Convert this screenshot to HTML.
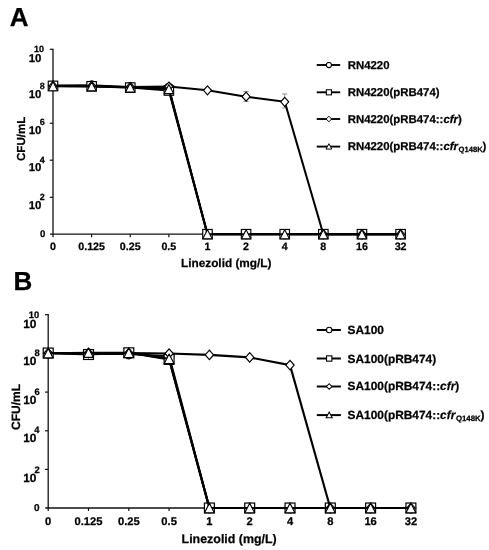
<!DOCTYPE html>
<html><head><meta charset="utf-8"><title>Linezolid susceptibility</title>
<style>
html,body{margin:0;padding:0;background:#fff;}
svg{display:block;font-family:"Liberation Sans", Arial, Helvetica, sans-serif;fill:#000;text-rendering:geometricPrecision;}
text{stroke:#000;stroke-width:0.25px;stroke-linejoin:round;}
</style></head><body>
<svg width="489" height="550" viewBox="0 0 489 550">
<rect width="489" height="550" fill="#fff"/>
<line x1="53.0" y1="48.699999999999996" x2="53.0" y2="234.79999999999998" stroke="#111" stroke-width="1.3"/>
<line x1="50.0" y1="234.2" x2="400.58" y2="234.2" stroke="#111" stroke-width="1.3"/>
<line x1="49.8" y1="49.3" x2="53.0" y2="49.3" stroke="#111" stroke-width="1.2"/>
<line x1="49.8" y1="86.3" x2="53.0" y2="86.3" stroke="#111" stroke-width="1.2"/>
<line x1="49.8" y1="123.3" x2="53.0" y2="123.3" stroke="#111" stroke-width="1.2"/>
<line x1="49.8" y1="160.2" x2="53.0" y2="160.2" stroke="#111" stroke-width="1.2"/>
<line x1="49.8" y1="197.3" x2="53.0" y2="197.3" stroke="#111" stroke-width="1.2"/>
<line x1="53.00" y1="234.2" x2="53.00" y2="237.2" stroke="#111" stroke-width="1.2"/>
<line x1="91.62" y1="234.2" x2="91.62" y2="237.2" stroke="#111" stroke-width="1.2"/>
<line x1="130.24" y1="234.2" x2="130.24" y2="237.2" stroke="#111" stroke-width="1.2"/>
<line x1="168.86" y1="234.2" x2="168.86" y2="237.2" stroke="#111" stroke-width="1.2"/>
<line x1="207.48" y1="234.2" x2="207.48" y2="237.2" stroke="#111" stroke-width="1.2"/>
<line x1="246.10" y1="234.2" x2="246.10" y2="237.2" stroke="#111" stroke-width="1.2"/>
<line x1="284.72" y1="234.2" x2="284.72" y2="237.2" stroke="#111" stroke-width="1.2"/>
<line x1="323.34" y1="234.2" x2="323.34" y2="237.2" stroke="#111" stroke-width="1.2"/>
<line x1="361.96" y1="234.2" x2="361.96" y2="237.2" stroke="#111" stroke-width="1.2"/>
<line x1="400.58" y1="234.2" x2="400.58" y2="237.2" stroke="#111" stroke-width="1.2"/>
<path d="M246.10 91.5 V101.5 M243.50 91.5 h5.2 M243.50 101.5 h5.2" stroke="#8a8a8a" stroke-width="0.9" fill="none"/>
<path d="M284.72 94.0 V107.9 M282.12 94.0 h5.2 M282.12 107.9 h5.2" stroke="#8a8a8a" stroke-width="0.9" fill="none"/>
<polyline points="53.00,85.60 91.62,85.30 130.24,87.20 168.86,88.00 207.48,234.20 246.10,234.20 284.72,234.20 323.34,234.20 361.96,234.20 400.58,234.20" fill="none" stroke="#000" stroke-width="2.05" stroke-linejoin="round" stroke-linecap="round"/>
<circle cx="53.00" cy="85.60" r="4.60" fill="#fff" stroke="#000" stroke-width="1.15"/>
<circle cx="91.62" cy="85.30" r="4.60" fill="#fff" stroke="#000" stroke-width="1.15"/>
<circle cx="130.24" cy="87.20" r="4.60" fill="#fff" stroke="#000" stroke-width="1.15"/>
<circle cx="168.86" cy="88.00" r="4.60" fill="#fff" stroke="#000" stroke-width="1.15"/>
<circle cx="207.48" cy="234.20" r="4.60" fill="#fff" stroke="#000" stroke-width="1.15"/>
<circle cx="246.10" cy="234.20" r="4.60" fill="#fff" stroke="#000" stroke-width="1.15"/>
<circle cx="284.72" cy="234.20" r="4.60" fill="#fff" stroke="#000" stroke-width="1.15"/>
<circle cx="323.34" cy="234.20" r="4.60" fill="#fff" stroke="#000" stroke-width="1.15"/>
<circle cx="361.96" cy="234.20" r="4.60" fill="#fff" stroke="#000" stroke-width="1.15"/>
<circle cx="400.58" cy="234.20" r="4.60" fill="#fff" stroke="#000" stroke-width="1.15"/>
<polyline points="53.00,85.90 91.62,86.30 130.24,87.60 168.86,90.50 207.48,234.20 246.10,234.20 284.72,234.20 323.34,234.20 361.96,234.20 400.58,234.20" fill="none" stroke="#000" stroke-width="2.05" stroke-linejoin="round" stroke-linecap="round"/>
<rect x="48.25" y="81.15" width="9.5" height="9.5" fill="#fff" stroke="#000" stroke-width="1.15"/>
<rect x="86.87" y="81.55" width="9.5" height="9.5" fill="#fff" stroke="#000" stroke-width="1.15"/>
<rect x="125.49" y="82.85" width="9.5" height="9.5" fill="#fff" stroke="#000" stroke-width="1.15"/>
<rect x="164.11" y="85.75" width="9.5" height="9.5" fill="#fff" stroke="#000" stroke-width="1.15"/>
<rect x="202.73" y="229.45" width="9.5" height="9.5" fill="#fff" stroke="#000" stroke-width="1.15"/>
<rect x="241.35" y="229.45" width="9.5" height="9.5" fill="#fff" stroke="#000" stroke-width="1.15"/>
<rect x="279.97" y="229.45" width="9.5" height="9.5" fill="#fff" stroke="#000" stroke-width="1.15"/>
<rect x="318.59" y="229.45" width="9.5" height="9.5" fill="#fff" stroke="#000" stroke-width="1.15"/>
<rect x="357.21" y="229.45" width="9.5" height="9.5" fill="#fff" stroke="#000" stroke-width="1.15"/>
<rect x="395.83" y="229.45" width="9.5" height="9.5" fill="#fff" stroke="#000" stroke-width="1.15"/>
<polyline points="53.00,85.90 91.62,86.00 130.24,87.00 168.86,86.50 207.48,90.30 246.10,96.70 284.72,101.80 323.34,234.20 361.96,234.20 400.58,234.20" fill="none" stroke="#000" stroke-width="2.05" stroke-linejoin="round" stroke-linecap="round"/>
<path d="M53.00 81.40 L57.00 85.90 L53.00 90.40 L49.00 85.90Z" fill="#fff" stroke="#000" stroke-width="1.15"/>
<path d="M91.62 81.50 L95.62 86.00 L91.62 90.50 L87.62 86.00Z" fill="#fff" stroke="#000" stroke-width="1.15"/>
<path d="M130.24 82.50 L134.24 87.00 L130.24 91.50 L126.24 87.00Z" fill="#fff" stroke="#000" stroke-width="1.15"/>
<path d="M168.86 82.00 L172.86 86.50 L168.86 91.00 L164.86 86.50Z" fill="#fff" stroke="#000" stroke-width="1.15"/>
<path d="M207.48 85.80 L211.48 90.30 L207.48 94.80 L203.48 90.30Z" fill="#fff" stroke="#000" stroke-width="1.15"/>
<path d="M246.10 92.20 L250.10 96.70 L246.10 101.20 L242.10 96.70Z" fill="#fff" stroke="#000" stroke-width="1.15"/>
<path d="M284.72 97.30 L288.72 101.80 L284.72 106.30 L280.72 101.80Z" fill="#fff" stroke="#000" stroke-width="1.15"/>
<path d="M323.34 229.70 L327.34 234.20 L323.34 238.70 L319.34 234.20Z" fill="#fff" stroke="#000" stroke-width="1.15"/>
<path d="M361.96 229.70 L365.96 234.20 L361.96 238.70 L357.96 234.20Z" fill="#fff" stroke="#000" stroke-width="1.15"/>
<path d="M400.58 229.70 L404.58 234.20 L400.58 238.70 L396.58 234.20Z" fill="#fff" stroke="#000" stroke-width="1.15"/>
<polyline points="53.00,86.20 91.62,86.40 130.24,87.60 168.86,89.10 207.48,234.20 246.10,234.20 284.72,234.20 323.34,234.20 361.96,234.20 400.58,234.20" fill="none" stroke="#000" stroke-width="2.05" stroke-linejoin="round" stroke-linecap="round"/>
<path d="M53.00 81.70 L57.65 90.70 L48.35 90.70Z" fill="#fff" stroke="#000" stroke-width="1.10" stroke-linejoin="round"/>
<path d="M91.62 81.90 L96.27 90.90 L86.97 90.90Z" fill="#fff" stroke="#000" stroke-width="1.10" stroke-linejoin="round"/>
<path d="M130.24 83.10 L134.89 92.10 L125.59 92.10Z" fill="#fff" stroke="#000" stroke-width="1.10" stroke-linejoin="round"/>
<path d="M168.86 84.60 L173.51 93.60 L164.21 93.60Z" fill="#fff" stroke="#000" stroke-width="1.10" stroke-linejoin="round"/>
<path d="M207.48 229.70 L212.13 238.70 L202.83 238.70Z" fill="#fff" stroke="#000" stroke-width="1.10" stroke-linejoin="round"/>
<path d="M246.10 229.70 L250.75 238.70 L241.45 238.70Z" fill="#fff" stroke="#000" stroke-width="1.10" stroke-linejoin="round"/>
<path d="M284.72 229.70 L289.37 238.70 L280.07 238.70Z" fill="#fff" stroke="#000" stroke-width="1.10" stroke-linejoin="round"/>
<path d="M323.34 229.70 L327.99 238.70 L318.69 238.70Z" fill="#fff" stroke="#000" stroke-width="1.10" stroke-linejoin="round"/>
<path d="M361.96 229.70 L366.61 238.70 L357.31 238.70Z" fill="#fff" stroke="#000" stroke-width="1.10" stroke-linejoin="round"/>
<path d="M400.58 229.70 L405.23 238.70 L395.93 238.70Z" fill="#fff" stroke="#000" stroke-width="1.10" stroke-linejoin="round"/>
<text x="28.7" y="62.3" font-size="11.40" font-weight="bold">10</text>
<text x="34.0" y="52.2" font-size="9.00" font-weight="bold">10</text>
<text x="28.7" y="97.9" font-size="11.40" font-weight="bold">10</text>
<text x="39.8" y="88.5" font-size="9.00" font-weight="bold">8</text>
<text x="28.7" y="133.9" font-size="11.40" font-weight="bold">10</text>
<text x="39.8" y="125.4" font-size="9.00" font-weight="bold">6</text>
<text x="28.7" y="170.5" font-size="11.40" font-weight="bold">10</text>
<text x="39.8" y="163.0" font-size="9.00" font-weight="bold">4</text>
<text x="28.7" y="208.7" font-size="11.40" font-weight="bold">10</text>
<text x="39.8" y="199.7" font-size="9.00" font-weight="bold">2</text>
<text x="39.9" y="236.8" font-size="9.60" font-weight="bold">0</text>
<text x="53.00" y="249.7" font-size="10.70" font-weight="bold" text-anchor="middle">0</text>
<text x="91.62" y="249.7" font-size="10.70" font-weight="bold" text-anchor="middle">0.125</text>
<text x="130.24" y="249.7" font-size="10.70" font-weight="bold" text-anchor="middle">0.25</text>
<text x="168.86" y="249.7" font-size="10.70" font-weight="bold" text-anchor="middle">0.5</text>
<text x="207.48" y="249.7" font-size="10.70" font-weight="bold" text-anchor="middle">1</text>
<text x="246.10" y="249.7" font-size="10.70" font-weight="bold" text-anchor="middle">2</text>
<text x="284.72" y="249.7" font-size="10.70" font-weight="bold" text-anchor="middle">4</text>
<text x="323.34" y="249.7" font-size="10.70" font-weight="bold" text-anchor="middle">8</text>
<text x="361.96" y="249.7" font-size="10.70" font-weight="bold" text-anchor="middle">16</text>
<text x="400.58" y="249.7" font-size="10.70" font-weight="bold" text-anchor="middle">32</text>
<text x="181.0" y="267.4" font-size="11.8" font-weight="bold">Linezolid (mg/L)</text>
<text transform="translate(24.7 138.8) rotate(-90)" font-size="11.6" font-weight="bold" text-anchor="middle">CFU/mL</text>
<text x="9.8" y="26.0" font-size="26" font-weight="bold">A</text>
<line x1="316.7" y1="65.0" x2="340.2" y2="65.0" stroke="#000" stroke-width="1.90"/>
<circle cx="328.9" cy="65.0" r="2.60" fill="#fff" stroke="#000" stroke-width="1.05"/>
<text x="347.7" y="68.5" font-size="11.42" font-weight="bold">RN4220</text>
<line x1="316.7" y1="92.3" x2="340.2" y2="92.3" stroke="#000" stroke-width="1.90"/>
<rect x="326.35" y="89.75" width="5.10" height="5.10" fill="#fff" stroke="#000" stroke-width="1.05"/>
<text x="347.7" y="95.8" font-size="11.42" font-weight="bold">RN4220(pRB474)</text>
<line x1="316.7" y1="119.0" x2="340.2" y2="119.0" stroke="#000" stroke-width="1.90"/>
<path d="M328.9 116.25 L331.65 119.0 L328.9 121.75 L326.15 119.0Z" fill="#fff" stroke="#000" stroke-width="1.00"/>
<text x="347.7" y="122.7" font-size="11.42" font-weight="bold">RN4220(pRB474::<tspan font-style="italic">cfr</tspan>)</text>
<line x1="316.7" y1="146.6" x2="340.2" y2="146.6" stroke="#000" stroke-width="1.90"/>
<path d="M328.9 143.70 L331.80 149.06 L326.00 149.06Z" fill="#fff" stroke="#000" stroke-width="1.00"/>
<text x="347.7" y="150.1" font-size="11.42" font-weight="bold">RN4220(pRB474::<tspan font-style="italic">cfr</tspan><tspan font-size="7.6" dy="2.2" dx="0.6">Q148K</tspan><tspan dy="-2.2" dx="-0.1">)</tspan></text>
<line x1="48.2" y1="314.09999999999997" x2="48.2" y2="508.6" stroke="#111" stroke-width="1.3"/>
<line x1="45.2" y1="508.0" x2="410.9" y2="508.0" stroke="#111" stroke-width="1.3"/>
<line x1="45.0" y1="314.7" x2="48.2" y2="314.7" stroke="#111" stroke-width="1.2"/>
<line x1="45.0" y1="353.4" x2="48.2" y2="353.4" stroke="#111" stroke-width="1.2"/>
<line x1="45.0" y1="392.1" x2="48.2" y2="392.1" stroke="#111" stroke-width="1.2"/>
<line x1="45.0" y1="430.8" x2="48.2" y2="430.8" stroke="#111" stroke-width="1.2"/>
<line x1="45.0" y1="469.4" x2="48.2" y2="469.4" stroke="#111" stroke-width="1.2"/>
<line x1="48.20" y1="508.0" x2="48.20" y2="511.0" stroke="#111" stroke-width="1.2"/>
<line x1="88.50" y1="508.0" x2="88.50" y2="511.0" stroke="#111" stroke-width="1.2"/>
<line x1="128.80" y1="508.0" x2="128.80" y2="511.0" stroke="#111" stroke-width="1.2"/>
<line x1="169.10" y1="508.0" x2="169.10" y2="511.0" stroke="#111" stroke-width="1.2"/>
<line x1="209.40" y1="508.0" x2="209.40" y2="511.0" stroke="#111" stroke-width="1.2"/>
<line x1="249.70" y1="508.0" x2="249.70" y2="511.0" stroke="#111" stroke-width="1.2"/>
<line x1="290.00" y1="508.0" x2="290.00" y2="511.0" stroke="#111" stroke-width="1.2"/>
<line x1="330.30" y1="508.0" x2="330.30" y2="511.0" stroke="#111" stroke-width="1.2"/>
<line x1="370.60" y1="508.0" x2="370.60" y2="511.0" stroke="#111" stroke-width="1.2"/>
<line x1="410.90" y1="508.0" x2="410.90" y2="511.0" stroke="#111" stroke-width="1.2"/>
<polyline points="48.20,353.20 88.50,354.00 128.80,354.00 169.10,356.30 209.40,508.00 249.70,508.00 290.00,508.00 330.30,508.00 370.60,508.00 410.90,508.00" fill="none" stroke="#000" stroke-width="2.1422499999999998" stroke-linejoin="round" stroke-linecap="round"/>
<circle cx="48.20" cy="353.20" r="4.81" fill="#fff" stroke="#000" stroke-width="1.2017499999999999"/>
<circle cx="88.50" cy="354.00" r="4.81" fill="#fff" stroke="#000" stroke-width="1.2017499999999999"/>
<circle cx="128.80" cy="354.00" r="4.81" fill="#fff" stroke="#000" stroke-width="1.2017499999999999"/>
<circle cx="169.10" cy="356.30" r="4.81" fill="#fff" stroke="#000" stroke-width="1.2017499999999999"/>
<circle cx="209.40" cy="508.00" r="4.81" fill="#fff" stroke="#000" stroke-width="1.2017499999999999"/>
<circle cx="249.70" cy="508.00" r="4.81" fill="#fff" stroke="#000" stroke-width="1.2017499999999999"/>
<circle cx="290.00" cy="508.00" r="4.81" fill="#fff" stroke="#000" stroke-width="1.2017499999999999"/>
<circle cx="330.30" cy="508.00" r="4.81" fill="#fff" stroke="#000" stroke-width="1.2017499999999999"/>
<circle cx="370.60" cy="508.00" r="4.81" fill="#fff" stroke="#000" stroke-width="1.2017499999999999"/>
<circle cx="410.90" cy="508.00" r="4.81" fill="#fff" stroke="#000" stroke-width="1.2017499999999999"/>
<polyline points="48.20,353.00 88.50,354.50 128.80,352.80 169.10,359.40 209.40,508.00 249.70,508.00 290.00,508.00 330.30,508.00 370.60,508.00 410.90,508.00" fill="none" stroke="#000" stroke-width="2.1422499999999998" stroke-linejoin="round" stroke-linecap="round"/>
<rect x="43.24" y="348.04" width="9.927499999999998" height="9.927499999999998" fill="#fff" stroke="#000" stroke-width="1.2017499999999999"/>
<rect x="83.54" y="349.54" width="9.927499999999998" height="9.927499999999998" fill="#fff" stroke="#000" stroke-width="1.2017499999999999"/>
<rect x="123.84" y="347.84" width="9.927499999999998" height="9.927499999999998" fill="#fff" stroke="#000" stroke-width="1.2017499999999999"/>
<rect x="164.14" y="354.44" width="9.927499999999998" height="9.927499999999998" fill="#fff" stroke="#000" stroke-width="1.2017499999999999"/>
<rect x="204.44" y="503.04" width="9.927499999999998" height="9.927499999999998" fill="#fff" stroke="#000" stroke-width="1.2017499999999999"/>
<rect x="244.74" y="503.04" width="9.927499999999998" height="9.927499999999998" fill="#fff" stroke="#000" stroke-width="1.2017499999999999"/>
<rect x="285.04" y="503.04" width="9.927499999999998" height="9.927499999999998" fill="#fff" stroke="#000" stroke-width="1.2017499999999999"/>
<rect x="325.34" y="503.04" width="9.927499999999998" height="9.927499999999998" fill="#fff" stroke="#000" stroke-width="1.2017499999999999"/>
<rect x="365.64" y="503.04" width="9.927499999999998" height="9.927499999999998" fill="#fff" stroke="#000" stroke-width="1.2017499999999999"/>
<rect x="405.94" y="503.04" width="9.927499999999998" height="9.927499999999998" fill="#fff" stroke="#000" stroke-width="1.2017499999999999"/>
<polyline points="48.20,353.00 88.50,353.20 128.80,353.00 169.10,353.50 209.40,354.90 249.70,357.40 290.00,365.10 330.30,508.00 370.60,508.00 410.90,508.00" fill="none" stroke="#000" stroke-width="2.1422499999999998" stroke-linejoin="round" stroke-linecap="round"/>
<path d="M48.20 348.30 L52.38 353.00 L48.20 357.70 L44.02 353.00Z" fill="#fff" stroke="#000" stroke-width="1.2017499999999999"/>
<path d="M88.50 348.50 L92.68 353.20 L88.50 357.90 L84.32 353.20Z" fill="#fff" stroke="#000" stroke-width="1.2017499999999999"/>
<path d="M128.80 348.30 L132.98 353.00 L128.80 357.70 L124.62 353.00Z" fill="#fff" stroke="#000" stroke-width="1.2017499999999999"/>
<path d="M169.10 348.80 L173.28 353.50 L169.10 358.20 L164.92 353.50Z" fill="#fff" stroke="#000" stroke-width="1.2017499999999999"/>
<path d="M209.40 350.20 L213.58 354.90 L209.40 359.60 L205.22 354.90Z" fill="#fff" stroke="#000" stroke-width="1.2017499999999999"/>
<path d="M249.70 352.70 L253.88 357.40 L249.70 362.10 L245.52 357.40Z" fill="#fff" stroke="#000" stroke-width="1.2017499999999999"/>
<path d="M290.00 360.40 L294.18 365.10 L290.00 369.80 L285.82 365.10Z" fill="#fff" stroke="#000" stroke-width="1.2017499999999999"/>
<path d="M330.30 503.30 L334.48 508.00 L330.30 512.70 L326.12 508.00Z" fill="#fff" stroke="#000" stroke-width="1.2017499999999999"/>
<path d="M370.60 503.30 L374.78 508.00 L370.60 512.70 L366.42 508.00Z" fill="#fff" stroke="#000" stroke-width="1.2017499999999999"/>
<path d="M410.90 503.30 L415.08 508.00 L410.90 512.70 L406.72 508.00Z" fill="#fff" stroke="#000" stroke-width="1.2017499999999999"/>
<polyline points="48.20,353.20 88.50,352.70 128.80,352.80 169.10,358.80 209.40,508.00 249.70,508.00 290.00,508.00 330.30,508.00 370.60,508.00 410.90,508.00" fill="none" stroke="#000" stroke-width="2.1422499999999998" stroke-linejoin="round" stroke-linecap="round"/>
<path d="M48.20 348.50 L53.06 357.90 L43.34 357.90Z" fill="#fff" stroke="#000" stroke-width="1.15" stroke-linejoin="round"/>
<path d="M88.50 348.00 L93.36 357.40 L83.64 357.40Z" fill="#fff" stroke="#000" stroke-width="1.15" stroke-linejoin="round"/>
<path d="M128.80 348.10 L133.66 357.50 L123.94 357.50Z" fill="#fff" stroke="#000" stroke-width="1.15" stroke-linejoin="round"/>
<path d="M169.10 354.10 L173.96 363.50 L164.24 363.50Z" fill="#fff" stroke="#000" stroke-width="1.15" stroke-linejoin="round"/>
<path d="M209.40 503.30 L214.26 512.70 L204.54 512.70Z" fill="#fff" stroke="#000" stroke-width="1.15" stroke-linejoin="round"/>
<path d="M249.70 503.30 L254.56 512.70 L244.84 512.70Z" fill="#fff" stroke="#000" stroke-width="1.15" stroke-linejoin="round"/>
<path d="M290.00 503.30 L294.86 512.70 L285.14 512.70Z" fill="#fff" stroke="#000" stroke-width="1.15" stroke-linejoin="round"/>
<path d="M330.30 503.30 L335.16 512.70 L325.44 512.70Z" fill="#fff" stroke="#000" stroke-width="1.15" stroke-linejoin="round"/>
<path d="M370.60 503.30 L375.46 512.70 L365.74 512.70Z" fill="#fff" stroke="#000" stroke-width="1.15" stroke-linejoin="round"/>
<path d="M410.90 503.30 L415.76 512.70 L406.04 512.70Z" fill="#fff" stroke="#000" stroke-width="1.15" stroke-linejoin="round"/>
<text x="23.2" y="327.9" font-size="11.91" font-weight="bold">10</text>
<text x="28.8" y="317.8" font-size="9.40" font-weight="bold">10</text>
<text x="23.2" y="364.9" font-size="11.91" font-weight="bold">10</text>
<text x="34.4" y="355.9" font-size="9.40" font-weight="bold">8</text>
<text x="23.2" y="403.8" font-size="11.91" font-weight="bold">10</text>
<text x="34.4" y="394.5" font-size="9.40" font-weight="bold">6</text>
<text x="23.2" y="442.0" font-size="11.91" font-weight="bold">10</text>
<text x="34.2" y="433.4" font-size="9.40" font-weight="bold">4</text>
<text x="23.2" y="482.3" font-size="11.91" font-weight="bold">10</text>
<text x="34.4" y="472.5" font-size="9.40" font-weight="bold">2</text>
<text x="34.1" y="511.3" font-size="10.03" font-weight="bold">0</text>
<text x="48.20" y="525.0" font-size="11.18" font-weight="bold" text-anchor="middle">0</text>
<text x="88.50" y="525.0" font-size="11.18" font-weight="bold" text-anchor="middle">0.125</text>
<text x="128.80" y="525.0" font-size="11.18" font-weight="bold" text-anchor="middle">0.25</text>
<text x="169.10" y="525.0" font-size="11.18" font-weight="bold" text-anchor="middle">0.5</text>
<text x="209.40" y="525.0" font-size="11.18" font-weight="bold" text-anchor="middle">1</text>
<text x="249.70" y="525.0" font-size="11.18" font-weight="bold" text-anchor="middle">2</text>
<text x="290.00" y="525.0" font-size="11.18" font-weight="bold" text-anchor="middle">4</text>
<text x="330.30" y="525.0" font-size="11.18" font-weight="bold" text-anchor="middle">8</text>
<text x="370.60" y="525.0" font-size="11.18" font-weight="bold" text-anchor="middle">16</text>
<text x="410.90" y="525.0" font-size="11.18" font-weight="bold" text-anchor="middle">32</text>
<text x="181.6" y="543.0" font-size="12.42" font-weight="bold">Linezolid (mg/L)</text>
<text transform="translate(19.5 406.9) rotate(-90)" font-size="12.0" font-weight="bold" text-anchor="middle">CFU/mL</text>
<text x="13.4" y="290.0" font-size="26" font-weight="bold">B</text>
<line x1="316.8" y1="330.0" x2="340.9" y2="330.0" stroke="#000" stroke-width="1.99"/>
<circle cx="329.2" cy="330.0" r="2.72" fill="#fff" stroke="#000" stroke-width="1.10"/>
<text x="347.6" y="334.2" font-size="11.9" font-weight="bold">SA100</text>
<line x1="316.8" y1="358.5" x2="340.9" y2="358.5" stroke="#000" stroke-width="1.99"/>
<rect x="326.54" y="355.84" width="5.33" height="5.33" fill="#fff" stroke="#000" stroke-width="1.10"/>
<text x="347.6" y="362.5" font-size="11.9" font-weight="bold">SA100(pRB474)</text>
<line x1="316.8" y1="386.5" x2="340.9" y2="386.5" stroke="#000" stroke-width="1.99"/>
<path d="M329.2 383.75 L331.95 386.5 L329.2 389.25 L326.45 386.5Z" fill="#fff" stroke="#000" stroke-width="1.04"/>
<text x="347.6" y="390.4" font-size="11.9" font-weight="bold">SA100(pRB474::<tspan font-style="italic">cfr</tspan>)</text>
<line x1="316.8" y1="415.1" x2="340.9" y2="415.1" stroke="#000" stroke-width="1.99"/>
<path d="M329.2 412.07 L332.23 417.68 L326.17 417.68Z" fill="#fff" stroke="#000" stroke-width="1.04"/>
<text x="347.6" y="419.2" font-size="11.9" font-weight="bold">SA100(pRB474::<tspan font-style="italic">cfr</tspan><tspan font-size="7.8" dy="2.2" dx="0.6">Q148K</tspan><tspan dy="-2.2" dx="-0.1">)</tspan></text>
</svg>
</body></html>
